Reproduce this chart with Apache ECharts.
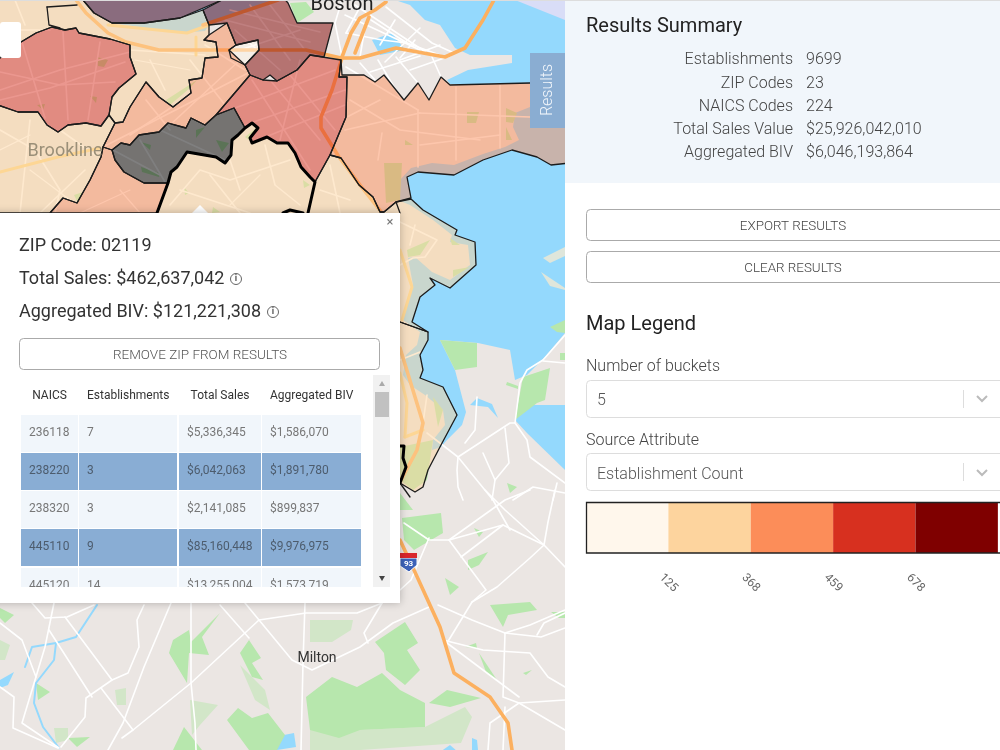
<!DOCTYPE html>
<html>
<head>
<meta charset="utf-8">
<title>Results map</title>
<script src="https://cdn.jsdelivr.net/npm/echarts@6/dist/echarts.min.js"></script>
<style>
html, body { margin: 0; padding: 0; background: #fff; }
#chart { width: 1000px; height: 750px; }
</style>
</head>
<body>
<div id="chart"></div>
<script>
// base map (map x, map y)
var waterAreas = [
    [[84,0],[94,13],[112,23],[180,33],[205,31],[209,25],[278,0]],
    [[395,0],[565,0],[565,84],[450,84],[447,80],[468,70],[512,63],[512,55],[470,55],[455,48],[440,25],[425,20],[410,5]],
    [[372,40],[392,33],[405,50],[380,55]],
    [[565,107],[530,107],[515,113],[513,127],[519,140],[505,147],[483,154],[454,165],[432,163],[411,168],[400,180],[398,200],[410,205],[433,220],[452,235],[450,242],[468,245],[470,265],[450,280],[432,272],[415,257],[408,258],[413,285],[403,320],[420,332],[417,345],[406,355],[403,375],[410,385],[425,395],[443,410],[445,425],[433,440],[432,450],[441,447],[447,440],[462,425],[466,412],[455,370],[440,340],[478,343],[510,350],[515,380],[527,375],[545,357],[565,333]],
    [[515,420],[523,405],[546,405],[565,405],[565,470],[527,433]],
    [[470,405],[477,398],[492,404],[498,418],[488,407]],
    [[527,388],[537,385],[533,395],[528,398]],
    [[0,680],[14,672],[8,685],[0,688]],
    [[178,653],[182,652],[186,673],[181,668]],
    [[274,737],[294,733],[296,747],[277,750]],
    [[472,738],[477,740],[478,750],[472,750]],
    [[440,752],[450,745],[458,752]]
];
var lavenderAreas = [
    [[515,0],[565,0],[565,20]]
];
var islandAreas = [
    [[543,258],[565,247],[565,256],[550,263]],
    [[541,272],[565,288],[565,290],[550,286]]
];
var parkAreas = [
    [[306,697],[332,677],[357,687],[382,673],[400,690],[425,703],[425,727],[360,730],[339,738],[310,730]],
    [[375,642],[405,622],[418,643],[407,650],[420,670],[405,685],[386,670],[384,653]],
    [[429,703],[447,690],[481,698],[450,707]],
    [[227,720],[238,708],[252,718],[268,713],[285,735],[277,750],[249,750]],
    [[173,750],[184,727],[202,750]],
    [[173,640],[189,630],[191,642],[220,613],[202,637],[209,655],[189,653],[187,683],[169,653]],
    [[240,653],[249,640],[261,658],[252,663],[263,680],[252,677]],
    [[402,518],[441,513],[443,533],[414,550],[404,540]],
    [[400,493],[413,510],[400,510]],
    [[468,560],[488,552],[479,565],[468,570]],
    [[445,578],[459,587],[450,595]],
    [[474,528],[483,532],[479,537]],
    [[490,605],[530,602],[537,610],[508,615],[503,627]],
    [[465,647],[476,643],[477,648]],
    [[479,653],[497,680],[486,672]],
    [[523,673],[532,670],[526,675]],
    [[551,612],[565,612],[565,618],[559,618]],
    [[0,608],[14,615],[5,623],[0,618]],
    [[36,683],[50,692],[38,700]],
    [[68,738],[90,737],[77,747]],
    [[440,340],[477,343],[477,367],[455,370]],
    [[515,420],[523,377],[550,368],[545,400],[537,403]],
    [[560,353],[565,353],[565,360],[560,360]],
    [[550,327],[565,320],[565,333],[557,332]],
    [[507,483],[517,487],[510,493]],
    [[507,382],[518,386],[518,389],[506,385]],
    [[290,3],[306,2],[314,12],[297,23]],
    [[97,57],[108,60],[104,67],[98,66]],
    [[90,96],[97,97],[96,103]],
    [[37,105],[45,104],[43,110]],
    [[141,142],[151,145],[150,150]],
    [[196,130],[205,127],[196,138]],
    [[216,140],[229,143],[222,152]],
    [[141,167],[160,173],[159,177],[142,172]],
    [[166,100],[197,80],[190,88],[170,105]],
    [[74,195],[83,192],[78,203]],
    [[184,187],[189,193],[185,195]],
    [[303,180],[310,185],[304,188]],
    [[213,207],[220,212],[212,213]],
    [[384,163],[402,163],[400,200],[386,203]],
    [[467,112],[479,112],[476,123],[467,123]],
    [[506,108],[517,113],[513,123],[506,122]],
    [[506,127],[512,140],[506,140]],
    [[405,140],[413,145],[405,145]],
    [[245,137],[256,128],[249,140]],
    [[407,250],[430,240],[420,255],[408,257]],
    [[453,270],[470,267],[453,277]],
    [[450,238],[460,245],[452,245]],
    [[433,397],[443,410],[438,427]],
    [[400,447],[433,440],[427,480],[413,490],[400,480]]
];
var fadedParkAreas = [
    [[310,730],[360,730],[425,727],[465,707],[472,717],[461,743],[360,750],[310,750]],
    [[310,620],[353,620],[351,630],[332,642],[310,642]],
    [[115,690],[126,688],[126,705],[117,705]],
    [[54,728],[68,728],[68,740],[56,743]],
    [[240,665],[265,690],[270,710],[255,700]],
    [[190,700],[218,705],[200,725],[192,735]],
    [[0,640],[10,645],[5,660],[0,660]]
];
var streamLines = [
    [[97,605],[76,637],[56,643],[32,647],[25,667]],
    [[56,643],[54,660],[36,683],[34,703],[43,727],[59,748]]
];
var roadLines = [
    [[191,603],[191,683],[195,723],[196,750]],
    [[171,603],[144,667],[123,723],[108,750]],
    [[305,603],[303,663],[301,750]],
    [[438,605],[472,620],[505,633],[541,637],[565,628]],
    [[259,620],[191,683],[133,730],[122,738]],
    [[220,605],[249,638]],
    [[245,603],[292,660],[312,670],[360,647],[393,623],[429,607]],
    [[259,620],[306,613],[357,613],[382,603]],
    [[382,603],[364,633],[368,643]],
    [[54,603],[45,647],[22,723],[59,748]],
    [[0,623],[22,640],[36,677]],
    [[65,617],[112,680],[128,673],[139,647],[137,620],[144,605]],
    [[112,680],[86,698],[85,717],[61,747]],
    [[101,688],[133,730]],
    [[32,603],[45,618],[67,617],[94,605]],
    [[49,630],[92,697]],
    [[0,687],[14,697],[13,728],[58,748]],
    [[404,523],[429,540],[449,540],[503,525],[544,545],[565,567]],
    [[485,490],[505,510],[544,545],[548,522],[555,490]],
    [[449,540],[486,590],[472,602],[447,643]],
    [[544,545],[530,558],[497,587],[472,602]],
    [[429,538],[411,580],[400,590]],
    [[449,540],[505,500],[530,490]],
    [[503,525],[461,557]],
    [[443,640],[483,650],[530,653],[548,677],[565,687]],
    [[505,633],[503,697],[519,703],[565,700]],
    [[505,633],[530,625],[565,610]],
    [[537,635],[544,623],[565,613]],
    [[443,640],[519,697]],
    [[519,703],[490,723],[488,750]],
    [[505,707],[503,750]],
    [[519,703],[565,730]],
    [[427,433],[458,457],[493,500],[510,530]],
    [[458,457],[510,423],[515,423],[527,440],[530,457],[565,483]],
    [[515,423],[520,383],[527,370],[543,360],[565,335]],
    [[543,361],[565,363]],
    [[458,457],[457,470],[458,487],[463,500]],
    [[505,428],[509,463],[495,480],[483,453]],
    [[495,480],[492,500]],
    [[477,397],[475,430],[465,443]],
    [[513,500],[533,487],[565,493]],
    [[557,483],[553,500]],
    [[386,7],[432,43],[454,53]],
    [[371,20],[407,43],[445,57]],
    [[360,63],[375,80]],
    [[378,60],[400,97]],
    [[396,57],[418,83]],
    [[432,57],[441,77]],
    [[346,33],[382,40],[407,43]],
    [[335,23],[342,57]],
    [[342,0],[335,23]],
    [[360,7],[346,33]],
    [[364,33],[360,57]],
    [[395,20],[380,45]],
    [[415,40],[400,58]],
    [[345,15],[420,50]],
    [[355,5],[430,55]],
    [[400,60],[440,45]],
    [[385,62],[420,28]],
    [[410,70],[450,56]],
    [[370,72],[420,56]],
    [[0,90],[60,70],[130,52]],
    [[0,100],[50,88],[125,62]],
    [[22,42],[45,118]],
    [[63,32],[68,120]],
    [[100,42],[88,120]],
    [[0,72],[60,85],[115,82]],
    [[0,30],[50,30]],
    [[15,0],[25,25]],
    [[0,130],[35,150],[60,190],[55,213]],
    [[30,120],[20,213]],
    [[60,130],[95,155]],
    [[85,170],[40,213]],
    [[103,147],[250,72]],
    [[130,135],[190,95]],
    [[170,125],[240,60]],
    [[146,100],[170,130]],
    [[190,60],[225,105]],
    [[205,45],[245,70]],
    [[130,50],[205,55]],
    [[150,60],[165,90]],
    [[230,10],[320,32]],
    [[225,20],[310,42]],
    [[240,50],[300,30]],
    [[250,5],[290,60]],
    [[270,5],[305,50]],
    [[235,30],[280,70]],
    [[252,80],[310,170]],
    [[270,80],[320,140]],
    [[290,75],[335,130]],
    [[235,108],[335,70]],
    [[245,125],[345,90]],
    [[258,140],[345,105]],
    [[300,60],[280,140]],
    [[346,67],[418,110]],
    [[418,113],[530,117]],
    [[418,110],[418,167]],
    [[382,133],[378,160]],
    [[456,87],[456,160]],
    [[345,130],[420,113]],
    [[350,100],[400,130],[480,140]],
    [[380,100],[345,118]],
    [[500,85],[500,148]],
    [[420,145],[500,135]],
    [[170,205],[200,170],[230,180],[290,160]],
    [[210,175],[240,213]],
    [[265,145],[275,185],[300,205]],
    [[180,190],[250,213]],
    [[230,160],[240,190]],
    [[320,190],[350,200]],
    [[330,165],[340,213]],
    [[113,150],[160,175]],
    [[140,140],[165,182]],
    [[160,130],[225,160]],
    [[400,222],[437,240],[425,257],[413,258],[400,265]],
    [[415,225],[410,245]],
    [[400,360],[420,352]],
    [[427,395],[422,430]]
];
var minorRoadLines = [
    [[230,205],[260,175]],
    [[30,170],[70,200]],
    [[0,150],[30,135]],
    [[135,60],[190,70]],
    [[120,190],[140,213]],
    [[80,213],[130,190]]
];
var yellowRoadLines = [
    [[0,172],[58,157],[100,148]],
    [[108,25],[187,33],[209,25]],
    [[196,37],[196,55]],
    [[400,250],[412,287],[402,320]],
    [[400,373],[407,403],[405,437]],
    [[405,437],[423,430]]
];
var highwayLines = [
    [[76,0],[86,13],[108,33],[126,42],[159,50],[306,50],[341,58],[360,58],[396,48],[445,57],[465,48],[483,20],[494,0]],
    [[386,2],[375,10],[360,18],[351,33],[342,57]],
    [[369,17],[355,53]],
    [[342,58],[332,90],[321,117],[321,128],[339,157],[360,185],[382,213]],
    [[203,25],[278,0]],
    [[400,348],[423,423],[417,450],[400,482]],
    [[400,540],[414,570],[440,627],[454,673],[490,697],[508,723],[512,750]]
];

// ZIP polygons per legend bucket
var bucket1Zones = [
    [[236,45],[229,50],[231,58],[245,65],[259,50],[258,40]]
];
var bucket2Zones = [
    [[-5,-5],[83,-5],[83,0],[94,13],[112,23],[144,23],[180,18],[203,10],[209,25],[209,35],[204,40],[216,42],[218,57],[205,58],[202,78],[189,80],[191,93],[173,107],[159,97],[146,82],[130,107],[123,122],[115,123],[109,115],[112,97],[119,88],[136,74],[130,57],[130,45],[110,39],[79,33],[76,28],[65,30],[52,27],[36,33],[16,45],[-5,62]],
    [[-5,104],[18,112],[38,112],[47,125],[58,132],[68,125],[86,123],[101,126],[109,115],[115,123],[103,147],[101,157],[90,180],[77,203],[63,198],[50,213],[-5,213]],
    [[157,213],[168,183],[171,172],[177,167],[187,152],[216,157],[225,163],[231,155],[232,140],[238,135],[245,128],[252,123],[258,128],[250,138],[252,143],[267,137],[277,143],[288,143],[295,153],[301,167],[310,177],[315,182],[308,213],[308,330],[157,330]],
    [[308,213],[315,182],[330,155],[341,158],[359,185],[373,197],[380,212],[384,212],[396,202],[411,199],[423,210],[457,230],[455,235],[475,242],[476,265],[450,288],[430,278],[435,285],[420,297],[412,322],[428,332],[400,322],[308,315]],
    [[308,315],[400,322],[428,332],[428,340],[420,355],[423,370],[420,378],[443,387],[457,415],[441,445],[428,470],[423,487],[415,492],[400,483],[308,470]]
];
var bucket3Zones = [
    [[209,35],[227,23],[236,45],[229,50],[245,65],[250,75],[216,115],[205,125],[191,118],[186,128],[175,125],[168,123],[159,132],[139,135],[130,145],[121,143],[112,150],[103,147],[115,123],[123,122],[130,107],[146,82],[159,97],[173,107],[191,93],[189,80],[202,78],[205,58],[218,57],[216,42],[204,40]],
    [[103,147],[112,150],[115,160],[124,172],[144,183],[168,183],[157,213],[50,213],[63,198],[77,203],[90,180],[101,157]],
    [[341,60],[342,75],[364,75],[375,82],[384,75],[404,100],[418,83],[429,100],[441,77],[450,85],[530,83],[570,83],[570,163],[551,165],[537,157],[512,150],[483,160],[454,175],[418,172],[407,177],[411,198],[396,202],[384,212],[380,212],[373,197],[359,185],[341,158],[330,155],[346,117],[347,77],[339,77]]
];
var bucket4Zones = [
    [[-5,62],[16,45],[36,33],[52,27],[65,30],[76,28],[79,33],[110,39],[130,45],[130,57],[136,74],[119,88],[112,97],[109,115],[101,126],[86,123],[68,125],[58,132],[47,125],[38,112],[18,112],[-5,104]],
    [[250,75],[263,80],[277,81],[297,70],[310,55],[341,60],[339,77],[347,77],[346,117],[330,155],[315,182],[310,177],[301,167],[295,153],[288,143],[277,143],[267,137],[252,143],[250,138],[258,128],[252,123],[245,128],[234,108],[216,115]]
];
var bucket5Zones = [
    [[83,-5],[83,0],[94,13],[112,23],[144,23],[180,18],[222,0],[222,-5]],
    [[203,10],[209,25],[227,23],[236,45],[258,40],[259,50],[245,65],[250,75],[263,80],[270,75],[277,81],[288,75],[297,70],[310,55],[324,57],[333,23],[297,23],[288,3],[281,-5],[222,-5],[222,0]]
];
var selectedZones = [
    [[112,150],[121,143],[130,145],[139,135],[159,132],[168,123],[175,125],[186,128],[191,118],[205,125],[216,115],[234,108],[245,128],[238,135],[232,140],[231,155],[225,163],[216,157],[187,152],[177,167],[171,172],[168,183],[144,183],[124,172],[115,160]]
];
var boldOutlines = [
    [[157,213],[168,183],[171,172],[177,167],[187,152],[216,157],[225,163],[231,155],[232,140],[238,135],[245,128],[252,123],[258,128],[250,138],[252,143],[267,137],[277,143],[288,143],[295,153],[301,167],[310,177],[315,182],[308,213]],
    [[400,446],[404,446],[403,458],[406,467],[400,483]],
    [[283,213],[290,210],[303,213]]
];
var thinOutlines = [
    [[47,7],[49,25],[60,28]],
    [[47,7],[77,5]],
    [[400,483],[410,497]],
    [[396,202],[400,213]]
];
var shieldBody = [[[400,558],[417,558],[417,565],[409,572],[400,566]]];
var shieldTop = [[[400,553],[417,553],[417,558],[400,558]]];

// popup and panel content
var tableHeaders = ['NAICS', 'Establishments', 'Total Sales', 'Aggregated BIV'];
var naicsCodes = ['236118', '238220', '238320', '445110', '445120'];
var establishmentCounts = ['7', '3', '3', '9', '14'];
var totalSales = ['$5,336,345', '$6,042,063', '$2,141,085', '$85,160,448', '$13,255,004'];
var aggregatedBiv = ['$1,586,070', '$1,891,780', '$899,837', '$9,976,975', '$1,573,719'];
var summaryLabels = ['Establishments', 'ZIP Codes', 'NAICS Codes', 'Total Sales Value', 'Aggregated BIV'];
var summaryValues = ['9699', '23', '224', '$25,926,042,010', '$6,046,193,864'];
var bucketColors = ['#fff7ec', '#fdd49e', '#fc8d59', '#d7301f', '#7f0000'];
var bucketShares = [1, 1, 1, 1, 1];
var bucketBreaks = ['125', '368', '459', '678'];

var FONT = 'Roboto, sans-serif';
var zoneOpacity = 0.5;

function polySeries(name, polys, style, z)
{
    return {
        type: 'custom',
        name: name,
        xAxisIndex: 0,
        yAxisIndex: 0,
        clip: true,
        silent: true,
        z: z,
        data: polys.map(function(p, i) { return [i]; }),
        renderItem: function(params, api)
        {
            var pts = polys[api.value(0)].map(function(p) { return api.coord(p); });
            return {type: 'polygon', shape: {points: pts}, style: style};
        }
    };
}

function lineSeries(name, lines, style, z)
{
    return {
        type: 'custom',
        name: name,
        xAxisIndex: 0,
        yAxisIndex: 0,
        clip: true,
        silent: true,
        z: z,
        data: lines.map(function(p, i) { return [i]; }),
        renderItem: function(params, api)
        {
            var pts = lines[api.value(0)].map(function(p) { return api.coord(p); });
            return {type: 'polyline', shape: {points: pts}, style: Object.assign({fill: null, lineJoin: 'round', lineCap: 'round'}, style)};
        }
    };
}

function zoneStyle(color)
{
    return {fill: color, opacity: zoneOpacity};
}

var outline = {fill: 'none', stroke: '#1c1c1c', lineWidth: 1.3, lineJoin: 'round'};
var allZones = bucket1Zones.concat(bucket2Zones, bucket3Zones, bucket4Zones, bucket5Zones, selectedZones);

var series = [
    polySeries('water', waterAreas, {fill: '#94d9fd'}, 2),
    polySeries('lavender', lavenderAreas, {fill: '#d9ddf7'}, 2),
    polySeries('islands', islandAreas, {fill: '#dfe6db'}, 2),
    polySeries('fadedParks', fadedParkAreas, {fill: '#d2e6c8'}, 3),
    polySeries('parks', parkAreas, {fill: '#b7e7ad'}, 3),
    lineSeries('streams', streamLines, {stroke: '#94d9fd', lineWidth: 2}, 3),
    lineSeries('minorRoads', minorRoadLines, {stroke: '#ffffff', lineWidth: 1.2}, 4),
    lineSeries('roads', roadLines, {stroke: '#ffffff', lineWidth: 1.6}, 4),
    lineSeries('yellowRoads', yellowRoadLines, {stroke: '#fdd98a', lineWidth: 3}, 5),
    lineSeries('highways', highwayLines, {stroke: '#fcb05f', lineWidth: 3.6}, 5),
    polySeries('bucket1', bucket1Zones, zoneStyle(bucketColors[0]), 6),
    polySeries('bucket2', bucket2Zones, zoneStyle(bucketColors[1]), 6),
    polySeries('bucket3', bucket3Zones, zoneStyle(bucketColors[2]), 6),
    polySeries('bucket4', bucket4Zones, zoneStyle(bucketColors[3]), 6),
    polySeries('bucket5', bucket5Zones, zoneStyle(bucketColors[4]), 6),
    polySeries('selected', selectedZones, zoneStyle('#000000'), 6),
    polySeries('outlines', allZones, outline, 7),
    lineSeries('thinOutlines', thinOutlines, {stroke: '#1c1c1c', lineWidth: 1.3}, 7),
    lineSeries('boldOutlines', boldOutlines, {stroke: '#000000', lineWidth: 3}, 8),
    polySeries('shieldBody', shieldBody, {fill: '#3d62b8', stroke: '#fff', lineWidth: 1}, 8),
    polySeries('shieldTop', shieldTop, {fill: '#d9262c'}, 8)
];

// popup table, one row per NAICS code
var tableColumns = [[21, 57], [79, 98], [179, 82], [262, 99]];
var tableTextX = [29, 87, 187, 270];
var rowTops = [415, 453, 491, 529, 568];
series.push({
    type: 'custom',
    name: 'naicsTable',
    xAxisIndex: 0,
    yAxisIndex: 0,
    clip: true,
    silent: true,
    z: 12,
    data: naicsCodes.map(function(code, i) { return [i]; }),
    renderItem: function(params, api)
    {
        var r = api.value(0);
        var values = [naicsCodes[r], establishmentCounts[r], totalSales[r], aggregatedBiv[r]];
        var shaded = r % 2 == 1;
        var children = [];
        tableColumns.forEach(function(col, c)
        {
            var corner = api.coord([col[0], rowTops[r]]);
            children.push({type: 'rect', shape: {x: corner[0], y: corner[1], width: col[1], height: Math.min(37, 587 - rowTops[r])}, style: {fill: shaded ? '#89add4' : '#f1f6fb'}});
            children.push({type: 'text', style: {
                text: values[c], x: tableTextX[c], y: corner[1] + 18,
                fill: shaded ? '#4d5c6d' : '#777777', font: '12px ' + FONT,
                verticalAlign: 'middle', textVerticalAlign: 'middle'
            }});
        });
        return {type: 'group', children: children};
    }
});

// legend bar
bucketShares.forEach(function(share, i)
{
    series.push({
        type: 'bar',
        xAxisIndex: 1,
        yAxisIndex: 1,
        stack: 'legend',
        barWidth: '100%',
        silent: true,
        itemStyle: {color: bucketColors[i]},
        data: [share]
    });
});

function label(text, x, y, font, color, extra)
{
    return {type: 'text', x: x, y: y + 2, z: 12, silent: true, style: Object.assign({
        text: text, font: font, fill: color, textVerticalAlign: 'middle', verticalAlign: 'middle'
    }, extra || {})};
}

function box(x, y, w, h, stroke)
{
    return {type: 'rect', z: 10, silent: true, shape: {x: x, y: y, width: w, height: h, r: 4}, style: {fill: '#fff', stroke: stroke, lineWidth: 1}};
}

function infoIcon(x, y)
{
    return [
        {type: 'circle', z: 11, silent: true, shape: {cx: x, cy: y, r: 5.5}, style: {fill: '#fff', stroke: '#666', lineWidth: 1}},
        label('i', x, y - 2, 'bold 9px ' + FONT, '#555', {textAlign: 'center', align: 'center'})
    ];
}

function chevron(x, y)
{
    return {type: 'polyline', z: 11, silent: true, shape: {points: [[x - 5, y - 3], [x, y + 2], [x + 5, y - 3]]}, style: {fill: null, stroke: '#bbb', lineWidth: 2}};
}

var center = {textAlign: 'center', align: 'center'};
var right = {textAlign: 'right', align: 'right'};

var graphics = [
    // map overlays
    {type: 'rect', z: 9, silent: true, shape: {x: 0, y: 22, width: 21, height: 36, r: 3}, style: {fill: '#fff'}},
    label('Boston', 342, 3, '20px ' + FONT, '#222', center),
    label('Brookline', 65, 149, '18px ' + FONT, '#9a8f78', center),
    label('Milton', 317, 656, '14px ' + FONT, '#333', center),
    label('93', 408.5, 562, 'bold 8px ' + FONT, '#fff', center),
    {type: 'rect', z: 9, silent: true, shape: {x: 530, y: 53, width: 35, height: 75}, style: {fill: '#8aadd2'}},
    {type: 'text', z: 10, silent: true, x: 548, y: 90, rotation: Math.PI / 2, style: {text: 'Results', font: '300 16px ' + FONT, fill: '#f2f6fb', textAlign: 'center', align: 'center', textVerticalAlign: 'middle', verticalAlign: 'middle'}},
    {type: 'rect', z: 9, silent: true, shape: {x: 0, y: 0, width: 1000, height: 1}, style: {fill: '#dddddd'}},

    // popup
    {type: 'polygon', z: 10, silent: true, shape: {points: [[200, 205], [191, 214], [209, 214]]}, style: {fill: '#fff'}},
    {type: 'rect', z: 10, silent: true, shape: {x: -10, y: 213, width: 410, height: 390}, style: {fill: '#fff', shadowBlur: 8, shadowColor: 'rgba(0,0,0,0.25)'}},
    label('×', 390, 221, '13px ' + FONT, '#777', center),
    label('ZIP Code: 02119', 19, 244, '18px ' + FONT, '#333'),
    label('Total Sales: $462,637,042', 19, 277, '18px ' + FONT, '#333'),
    label('Aggregated BIV: $121,221,308', 19, 310, '18px ' + FONT, '#333'),
    box(19.5, 338.5, 360, 31, '#aaaaaa'),
    label('REMOVE ZIP FROM RESULTS', 200, 354, '300 13.5px ' + FONT, '#555', center),
    label(tableHeaders[0], 49.5, 394, '12px ' + FONT, '#333', center),
    label(tableHeaders[1], 87, 394, '12px ' + FONT, '#333'),
    label(tableHeaders[2], 220, 394, '12px ' + FONT, '#333', center),
    label(tableHeaders[3], 270, 394, '12px ' + FONT, '#333'),
    {type: 'rect', z: 13, silent: true, shape: {x: 0, y: 587, width: 400, height: 16}, style: {fill: '#fff'}},
    {type: 'rect', z: 14, silent: true, shape: {x: 373, y: 375, width: 17, height: 212}, style: {fill: '#f1f1f1'}},
    {type: 'rect', z: 15, silent: true, shape: {x: 375, y: 392, width: 14, height: 25}, style: {fill: '#c1c1c1'}},
    {type: 'polygon', z: 15, silent: true, shape: {points: [[382, 381], [379, 386], [385, 386]]}, style: {fill: '#aaaaaa'}},
    {type: 'polygon', z: 15, silent: true, shape: {points: [[379, 576], [385, 576], [382, 581]]}, style: {fill: '#444444'}},

    // results panel
    {type: 'rect', z: 1, silent: true, shape: {x: 565, y: 1, width: 435, height: 182}, style: {fill: '#f1f6fb'}},
    label('Results Summary', 586, 25, '20px ' + FONT, '#222'),
    label('Map Legend', 586, 323, '20px ' + FONT, '#222'),
    box(586.5, 209.5, 420, 31, '#aaaaaa'),
    label('EXPORT RESULTS', 793, 225, '300 13.4px ' + FONT, '#444', center),
    box(586.5, 251.5, 420, 31, '#aaaaaa'),
    label('CLEAR RESULTS', 793, 267, '300 13.4px ' + FONT, '#444', center),
    label('Number of buckets', 586, 365, '300 16px ' + FONT, '#444'),
    box(586.5, 380.5, 420, 37, '#dddddd'),
    label('5', 597, 399, '300 16px ' + FONT, '#555'),
    {type: 'rect', z: 11, silent: true, shape: {x: 963, y: 390, width: 1, height: 18}, style: {fill: '#dddddd'}},
    chevron(982, 399),
    label('Source Attribute', 586, 439, '300 16px ' + FONT, '#444'),
    box(586.5, 453.5, 420, 37, '#dddddd'),
    label('Establishment Count', 597, 473, '300 16px ' + FONT, '#555'),
    {type: 'rect', z: 11, silent: true, shape: {x: 963, y: 463, width: 1, height: 18}, style: {fill: '#dddddd'}},
    chevron(982, 473),
    {type: 'polyline', z: 20, silent: true, shape: {points: [[1000, 502.5], [586.5, 502.5], [586.5, 553], [1000, 553]]}, style: {fill: null, stroke: '#222', lineWidth: 1.3}}
];
graphics = graphics.concat(infoIcon(236, 279), infoIcon(273, 312));

var summaryRowY = [58, 82, 105, 128, 151];
summaryLabels.forEach(function(text, i)
{
    graphics.push(label(text, 793, summaryRowY[i], '300 16px ' + FONT, '#444', right));
    graphics.push(label(summaryValues[i], 806, summaryRowY[i], '300 16px ' + FONT, '#444'));
});

var chart = echarts.init(document.getElementById('chart'), null, {renderer: 'canvas'});
var option = {
    animation: false,
    backgroundColor: '#ffffff',
    textStyle: {fontFamily: FONT},
    grid: [
        {left: 0, top: 0, width: 565, height: 750, show: true, backgroundColor: '#ebe6e3', borderWidth: 0},
        {left: 586, top: 503, width: 414, height: 50, show: false}
    ],
    xAxis: [
        {type: 'value', gridIndex: 0, min: 0, max: 565, show: false},
        {
            type: 'value', gridIndex: 1, min: 0, max: 5, interval: 1,
            axisLine: {show: false},
            axisTick: {show: false},
            splitLine: {show: false},
            axisLabel: {
                rotate: -45,
                margin: 30,
                align: 'center',
                verticalAlign: 'middle',
                color: '#666666',
                fontSize: 12,
                fontFamily: FONT,
                formatter: function(v) { return bucketBreaks[v - 1] || ''; }
            }
        }
    ],
    yAxis: [
        {type: 'value', gridIndex: 0, min: 0, max: 750, inverse: true, show: false},
        {type: 'category', gridIndex: 1, data: ['buckets'], show: false}
    ],
    series: series,
    graphic: {elements: graphics}
};
chart.setOption(option);
</script>
</body>
</html>
